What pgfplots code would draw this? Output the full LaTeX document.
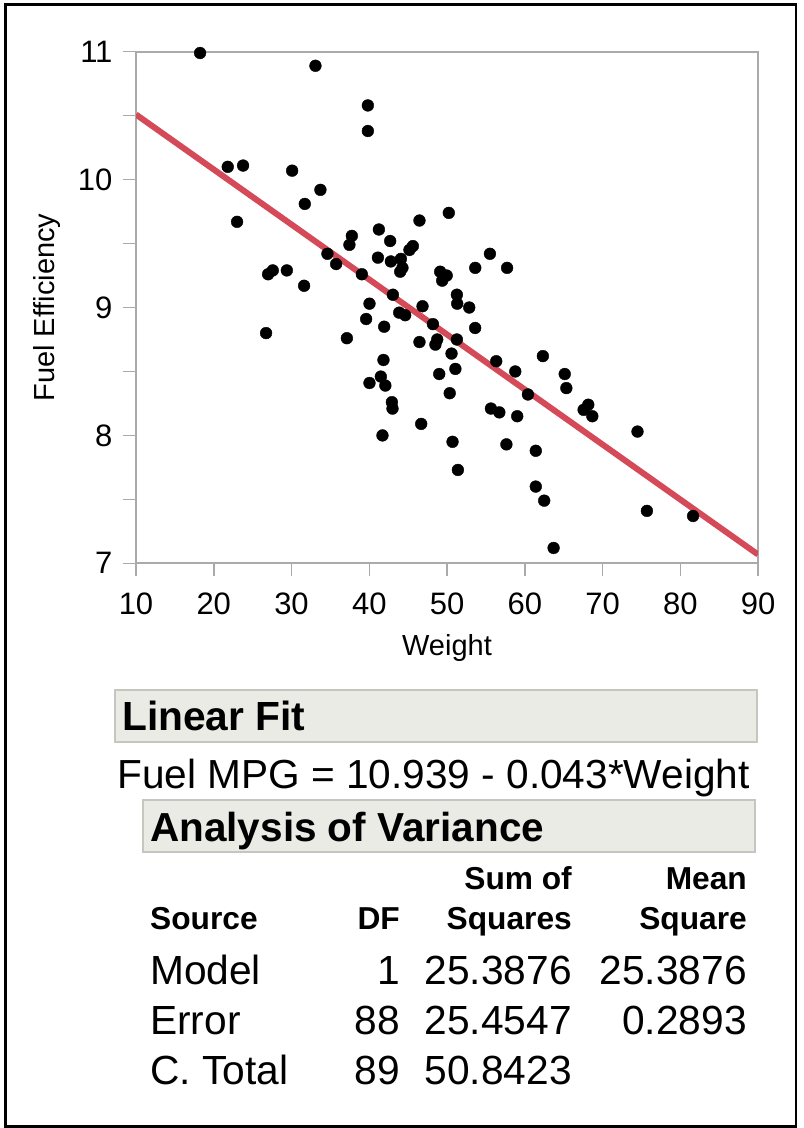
\documentclass[border=0pt]{standalone}
\usepackage{pgfplots}
\pgfplotsset{compat=1.18}
\usepackage{fontspec}
\setmainfont{Liberation Sans}
\definecolor{fitred}{RGB}{212,74,88}
\definecolor{axgray}{RGB}{170,170,170}
\definecolor{boxfill}{RGB}{235,235,230}
\definecolor{boxline}{RGB}{198,198,192}
\pgfplotstableread{
x y
18.24 10.99
33.08 10.89
39.82 10.58
39.82 10.38
21.80 10.10
23.77 10.11
30.08 10.07
33.72 9.92
31.71 9.81
23.00 9.67
50.23 9.74
46.46 9.68
41.24 9.61
37.76 9.56
37.45 9.49
42.69 9.52
45.61 9.48
45.17 9.45
55.52 9.42
34.62 9.42
35.74 9.34
41.11 9.39
42.78 9.36
44.07 9.38
44.27 9.31
43.98 9.28
39.05 9.26
49.12 9.28
49.96 9.25
49.38 9.21
53.63 9.31
57.73 9.31
26.99 9.26
27.59 9.29
29.40 9.29
31.62 9.17
43.04 9.10
51.27 9.10
51.31 9.03
40.03 9.03
52.86 9.00
46.85 9.01
43.85 8.96
44.62 8.94
39.60 8.91
41.92 8.85
48.19 8.87
53.62 8.84
26.73 8.80
37.12 8.76
46.46 8.73
48.74 8.75
48.51 8.71
51.27 8.75
41.83 8.59
50.58 8.64
51.08 8.52
49.00 8.48
41.49 8.46
40.03 8.41
42.07 8.39
50.35 8.33
42.91 8.26
42.99 8.21
46.68 8.09
41.70 8.00
56.33 8.58
58.78 8.50
60.41 8.32
62.33 8.62
65.14 8.48
65.35 8.37
55.65 8.21
56.73 8.18
59.03 8.15
68.17 8.24
67.57 8.20
68.69 8.15
74.50 8.03
50.71 7.95
57.64 7.93
61.42 7.88
51.40 7.73
61.42 7.60
62.50 7.49
75.71 7.41
81.65 7.37
63.71 7.12
}\pts
\begin{document}
\begin{tikzpicture}[x=1bp,y=1bp]
\useasboundingbox (0,0) rectangle (804,-1128);
\draw[line width=2.5bp] (5.5,-4.5) rectangle (796,-1126.5);
\begin{axis}[
  at={(136bp,-563.3bp)}, anchor=south west,
  width=622bp, height=511.6bp, scale only axis,
  xmin=10, xmax=90, ymin=7, ymax=11,
  xtick={10,20,...,90}, ytick={7,8,9,10,11},
  minor ytick={7.5,8.5,9.5,10.5},
  xtick pos=bottom, ytick pos=left,
  tick align=outside, major tick length=13bp, minor tick length=13bp,
  tick style={axgray, line width=1.5bp},
  axis line style={axgray, line width=1.8bp},
  tick label style={font=\fontsize{31bp}{37bp}\selectfont},
  xticklabel style={yshift=-13bp},
  yticklabel style={xshift=-7bp},
  /pgf/number format/assume math mode=true,
  xlabel={Weight}, ylabel={Fuel Efficiency},
  label style={font=\fontsize{29bp}{35bp}\selectfont},
  xlabel style={at={(axis description cs:0.5,-0.1656)}, anchor=center},
  ylabel style={at={(axis description cs:-0.1431,0.5)}, anchor=center},
]
\addplot[only marks, mark=*, mark size=5.9bp, black] table[x=x,y=y] {\pts};
\addplot[fitred, line width=6bp] coordinates {(10,10.509) (90,7.069)};
\end{axis}
% Linear Fit panel
\draw[boxline, fill=boxfill, line width=2bp] (115,-690) rectangle (757,-742);
\node[anchor=base west, inner sep=0pt, font=\fontsize{40.7bp}{48bp}\selectfont\bfseries] at (122,-730.5) {Linear Fit};
\node[anchor=base west, inner sep=0pt, font=\fontsize{40.6bp}{48bp}\selectfont] at (117,-788) {Fuel MPG = 10.939 - 0.043*Weight};
\draw[boxline, fill=boxfill, line width=2bp] (143,-800) rectangle (755,-852);
\node[anchor=base west, inner sep=0pt, font=\fontsize{40.5bp}{48bp}\selectfont\bfseries] at (150,-841) {Analysis of Variance};
% table header
\begin{scope}[every node/.style={inner sep=0pt, font=\fontsize{31.7bp}{38bp}\selectfont\bfseries}]
\node[anchor=base east] at (572,-889) {Sum of};
\node[anchor=base east] at (747,-889) {Mean};
\node[anchor=base west] at (150,-929) {Source};
\node[anchor=base east] at (400,-929) {DF};
\node[anchor=base east] at (572,-929) {Squares};
\node[anchor=base east] at (747,-929) {Square};
\end{scope}
\begin{scope}[every node/.style={inner sep=0pt, font=\fontsize{40.7bp}{48bp}\selectfont}]
\node[anchor=base west] at (150,-984.5) {Model};
\node[anchor=base east] at (400,-984.5) {1};
\node[anchor=base east] at (572,-984.5) {25.3876};
\node[anchor=base east] at (747,-984.5) {25.3876};
\node[anchor=base west] at (150,-1034.5) {Error};
\node[anchor=base east] at (400,-1034.5) {88};
\node[anchor=base east] at (572,-1034.5) {25.4547};
\node[anchor=base east] at (747,-1034.5) {0.2893};
\node[anchor=base west] at (150,-1084.5) {C. Total};
\node[anchor=base east] at (400,-1084.5) {89};
\node[anchor=base east] at (572,-1084.5) {50.8423};
\end{scope}
\end{tikzpicture}
\end{document}
